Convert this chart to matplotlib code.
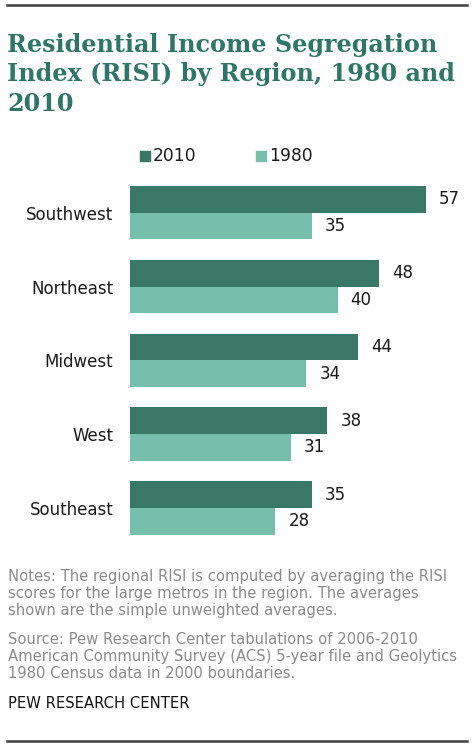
import matplotlib
matplotlib.use('Agg')
import matplotlib.pyplot as plt
from matplotlib.patches import Rectangle
from matplotlib.lines import Line2D

# Data ------------------------------------------------------------------
regions = ['Southwest', 'Northeast', 'Midwest', 'West', 'Southeast']
risi_2010 = [57, 48, 44, 38, 35]
risi_1980 = [35, 40, 34, 31, 28]
series_names = ['2010', '1980']

# Styles ----------------------------------------------------------------
dark = '#397767'
light = '#77bead'
title_color = '#2f7668'
W, H = 474, 746

fig = plt.figure(figsize=(W / 100, H / 100), dpi=100)

def px(x, y):
    # pixel coords (top-left origin) -> figure fraction
    return x / W, 1 - y / H

# top and bottom rules
fig.add_artist(Line2D([7 / W, 467 / W], [1 - 5 / H] * 2, color='#404040', lw=1.8))
fig.add_artist(Line2D([7 / W, 467 / W], [1 - 741 / H] * 2, color='#404040', lw=1.8))

# title
title_lines = ['Residential Income Segregation', 'Index (RISI) by Region, 1980 and', '2010']
for i, line in enumerate(title_lines):
    fig.text(*px(7, 52 + i * 29.5), line, fontsize=17.2, fontweight='bold',
             family='DejaVu Serif', color=title_color, ha='left', va='baseline')

# bars ------------------------------------------------------------------
x0, x1 = 130, 474
unit = 5.19  # px per index point
step = 73.8
y_center0 = 212.7
top = y_center0 - 0.7 * step
bottom = y_center0 + 4.7 * step
ax = fig.add_axes([x0 / W, 1 - bottom / H, (x1 - x0) / W, (bottom - top) / H])
ax.set_xlim(0, (x1 - x0) / unit)
ax.set_ylim(4.7, -0.7)

h = 26.7 / step
pos = list(range(len(regions)))
ax.barh([p - h / 2 for p in pos], risi_2010, height=h, color=dark, edgecolor='none')
ax.barh([p + h / 2 for p in pos], risi_1980, height=h, color=light, edgecolor='none')

for p, v in zip(pos, risi_2010):
    ax.text(v + 13 / unit, p - h / 2, str(v), va='center', ha='left', fontsize=12, color='#1a1a1a')
for p, v in zip(pos, risi_1980):
    ax.text(v + 13 / unit, p + h / 2, str(v), va='center', ha='left', fontsize=12, color='#1a1a1a')

ax.set_yticks(pos)
ax.set_yticklabels(regions, fontsize=12, color='#1a1a1a')
ax.tick_params(axis='y', length=0, pad=12)
ax.set_xticks([])
for s in ax.spines.values():
    s.set_visible(False)

# legend
fig.add_artist(Rectangle(px(140, 161), 10 / W, 10 / H, transform=fig.transFigure, color=dark))
fig.text(*px(153, 156), series_names[0], fontsize=12.3, va='center', ha='left', color='#1a1a1a')
fig.add_artist(Rectangle(px(256, 161), 10 / W, 10 / H, transform=fig.transFigure, color=light))
fig.text(*px(269, 156), series_names[1], fontsize=12.3, va='center', ha='left', color='#1a1a1a')

# notes
notes = ['Notes: The regional RISI is computed by averaging the RISI',
         'scores for the large metros in the region. The averages',
         'shown are the simple unweighted averages.']
source = ['Source: Pew Research Center tabulations of 2006-2010',
          'American Community Survey (ACS) 5-year file and Geolytics',
          '1980 Census data in 2000 boundaries.']
for i, line in enumerate(notes):
    fig.text(*px(8, 577 + i * 16.5), line, fontsize=10.6, color='#8a8a8a', va='center', ha='left')
for i, line in enumerate(source):
    fig.text(*px(8, 640 + i * 16.5), line, fontsize=10.6, color='#8a8a8a', va='center', ha='left')
fig.text(*px(8, 704), 'PEW RESEARCH CENTER', fontsize=10.6, color='#111111', va='center', ha='left')

fig.savefig('out.png', dpi=100)
